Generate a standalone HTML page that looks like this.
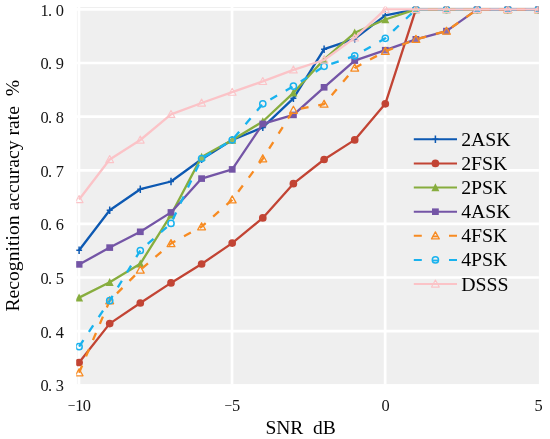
<!DOCTYPE html>
<html lang="en"><head><meta charset="utf-8"><title>Recognition accuracy rate vs SNR</title>
<style>
html,body{margin:0;padding:0;background:#fff;}
body{width:550px;height:439px;overflow:hidden;position:relative;}
svg{display:block;position:absolute;left:0;top:0;}
text{font-family:"Liberation Serif","Noto Serif CJK SC",serif;fill:#000;}
.tk{font-size:16.4px;fill:#141414;}
.mn{font-size:13.6px;}
.lb{font-size:19.7px;}
.lg{font-size:19.8px;}
</style></head><body>
<svg width="550" height="439" viewBox="0 0 550 439">
<defs><clipPath id="pc"><rect x="76.2" y="6.6" width="462.7" height="377.5"/></clipPath></defs>
<rect x="0" y="0" width="550" height="439" fill="#ffffff"/>
<rect x="76.9" y="7.0" width="462.0" height="377.1" fill="#efefef"/>
<g clip-path="url(#pc)">
<g stroke="#ffffff" stroke-width="2.7" fill="none">
<line x1="78.95" y1="6" x2="78.95" y2="385"/>
<line x1="232.05" y1="6" x2="232.05" y2="385"/>
<line x1="385.15" y1="6" x2="385.15" y2="385"/>
<line x1="76" y1="9.4" x2="540" y2="9.4"/>
<line x1="76" y1="63.0" x2="540" y2="63.0"/>
<line x1="76" y1="116.7" x2="540" y2="116.7"/>
<line x1="76" y1="170.3" x2="540" y2="170.3"/>
<line x1="76" y1="223.9" x2="540" y2="223.9"/>
<line x1="76" y1="277.5" x2="540" y2="277.5"/>
<line x1="76" y1="331.1" x2="540" y2="331.1"/>
</g>
<g>
<polyline points="79.1,250.3 109.7,210.3 140.3,189.2 171.0,181.5 201.6,159.2 232.2,140.0 262.8,127.4 293.4,98.3 324.1,49.2 354.7,38.9 385.3,15.3 415.9,9.4 446.5,9.4 477.2,9.4 507.8,9.4 538.4,9.4" fill="none" stroke="#0d59b2" stroke-width="2.3" stroke-linejoin="round"/>
<path d="M79.1 246.6V254.0M76.1 250.3H82.1" stroke="#0d59b2" stroke-width="1.5" fill="none"/>
<path d="M109.7 206.6V214.0M106.7 210.3H112.7" stroke="#0d59b2" stroke-width="1.5" fill="none"/>
<path d="M140.3 185.5V192.9M137.3 189.2H143.3" stroke="#0d59b2" stroke-width="1.5" fill="none"/>
<path d="M171.0 177.8V185.2M168.0 181.5H174.0" stroke="#0d59b2" stroke-width="1.5" fill="none"/>
<path d="M201.6 155.5V162.9M198.6 159.2H204.6" stroke="#0d59b2" stroke-width="1.5" fill="none"/>
<path d="M232.2 136.3V143.7M229.2 140.0H235.2" stroke="#0d59b2" stroke-width="1.5" fill="none"/>
<path d="M262.8 123.7V131.1M259.8 127.4H265.8" stroke="#0d59b2" stroke-width="1.5" fill="none"/>
<path d="M293.4 94.6V102.0M290.4 98.3H296.4" stroke="#0d59b2" stroke-width="1.5" fill="none"/>
<path d="M324.1 45.5V52.9M321.1 49.2H327.1" stroke="#0d59b2" stroke-width="1.5" fill="none"/>
<path d="M354.7 35.2V42.6M351.7 38.9H357.7" stroke="#0d59b2" stroke-width="1.5" fill="none"/>
<path d="M385.3 11.6V19.0M382.3 15.3H388.3" stroke="#0d59b2" stroke-width="1.5" fill="none"/>
<path d="M415.9 5.7V13.1M412.9 9.4H418.9" stroke="#0d59b2" stroke-width="1.5" fill="none"/>
<path d="M446.5 5.7V13.1M443.5 9.4H449.5" stroke="#0d59b2" stroke-width="1.5" fill="none"/>
<path d="M477.2 5.7V13.1M474.2 9.4H480.2" stroke="#0d59b2" stroke-width="1.5" fill="none"/>
<path d="M507.8 5.7V13.1M504.8 9.4H510.8" stroke="#0d59b2" stroke-width="1.5" fill="none"/>
<path d="M538.4 5.7V13.1M535.4 9.4H541.4" stroke="#0d59b2" stroke-width="1.5" fill="none"/>
</g>
<g>
<polyline points="79.1,362.5 109.7,323.6 140.3,303.0 171.0,282.9 201.6,264.0 232.2,243.1 262.8,217.9 293.4,183.7 324.1,159.5 354.7,139.9 385.3,103.8 415.9,9.4 446.5,9.4 477.2,9.4 507.8,9.4 538.4,9.4" fill="none" stroke="#c24434" stroke-width="2.3" stroke-linejoin="round"/>
<circle cx="79.1" cy="362.5" r="3.85" fill="#c24434"/>
<circle cx="109.7" cy="323.6" r="3.85" fill="#c24434"/>
<circle cx="140.3" cy="303.0" r="3.85" fill="#c24434"/>
<circle cx="171.0" cy="282.9" r="3.85" fill="#c24434"/>
<circle cx="201.6" cy="264.0" r="3.85" fill="#c24434"/>
<circle cx="232.2" cy="243.1" r="3.85" fill="#c24434"/>
<circle cx="262.8" cy="217.9" r="3.85" fill="#c24434"/>
<circle cx="293.4" cy="183.7" r="3.85" fill="#c24434"/>
<circle cx="324.1" cy="159.5" r="3.85" fill="#c24434"/>
<circle cx="354.7" cy="139.9" r="3.85" fill="#c24434"/>
<circle cx="385.3" cy="103.8" r="3.85" fill="#c24434"/>
<circle cx="415.9" cy="9.4" r="3.85" fill="#c24434"/>
<circle cx="446.5" cy="9.4" r="3.85" fill="#c24434"/>
<circle cx="477.2" cy="9.4" r="3.85" fill="#c24434"/>
<circle cx="507.8" cy="9.4" r="3.85" fill="#c24434"/>
<circle cx="538.4" cy="9.4" r="3.85" fill="#c24434"/>
</g>
<g>
<polyline points="79.1,297.6 109.7,282.3 140.3,263.8 171.0,214.8 201.6,156.9 232.2,140.0 262.8,121.5 293.4,92.8 324.1,59.4 354.7,32.8 385.3,19.5 415.9,9.4 446.5,9.4 477.2,9.4 507.8,9.4 538.4,9.4" fill="none" stroke="#87ad3e" stroke-width="2.3" stroke-linejoin="round"/>
<path d="M79.1 293.4L83.1 301.4H75.1Z" fill="#87ad3e"/>
<path d="M109.7 278.1L113.7 286.1H105.7Z" fill="#87ad3e"/>
<path d="M140.3 259.6L144.3 267.6H136.3Z" fill="#87ad3e"/>
<path d="M171.0 210.6L175.0 218.6H167.0Z" fill="#87ad3e"/>
<path d="M201.6 152.7L205.6 160.7H197.6Z" fill="#87ad3e"/>
<path d="M232.2 135.8L236.2 143.8H228.2Z" fill="#87ad3e"/>
<path d="M262.8 117.3L266.8 125.3H258.8Z" fill="#87ad3e"/>
<path d="M293.4 88.6L297.4 96.6H289.4Z" fill="#87ad3e"/>
<path d="M324.1 55.2L328.1 63.2H320.1Z" fill="#87ad3e"/>
<path d="M354.7 28.6L358.7 36.6H350.7Z" fill="#87ad3e"/>
<path d="M385.3 15.3L389.3 23.3H381.3Z" fill="#87ad3e"/>
<path d="M415.9 5.2L419.9 13.2H411.9Z" fill="#87ad3e"/>
<path d="M446.5 5.2L450.5 13.2H442.5Z" fill="#87ad3e"/>
<path d="M477.2 5.2L481.2 13.2H473.2Z" fill="#87ad3e"/>
<path d="M507.8 5.2L511.8 13.2H503.8Z" fill="#87ad3e"/>
<path d="M538.4 5.2L542.4 13.2H534.4Z" fill="#87ad3e"/>
</g>
<g>
<polyline points="79.1,264.4 109.7,247.6 140.3,231.8 171.0,212.4 201.6,178.6 232.2,169.4 262.8,123.9 293.4,114.9 324.1,87.3 354.7,60.6 385.3,50.2 415.9,39.3 446.5,31.1 477.2,9.4 507.8,9.4 538.4,9.4" fill="none" stroke="#7455a6" stroke-width="2.3" stroke-linejoin="round"/>
<rect x="75.7" y="261.1" width="6.8" height="6.6" fill="#7455a6"/>
<rect x="106.3" y="244.3" width="6.8" height="6.6" fill="#7455a6"/>
<rect x="136.9" y="228.5" width="6.8" height="6.6" fill="#7455a6"/>
<rect x="167.6" y="209.1" width="6.8" height="6.6" fill="#7455a6"/>
<rect x="198.2" y="175.3" width="6.8" height="6.6" fill="#7455a6"/>
<rect x="228.8" y="166.1" width="6.8" height="6.6" fill="#7455a6"/>
<rect x="259.4" y="120.6" width="6.8" height="6.6" fill="#7455a6"/>
<rect x="290.0" y="111.6" width="6.8" height="6.6" fill="#7455a6"/>
<rect x="320.7" y="84.0" width="6.8" height="6.6" fill="#7455a6"/>
<rect x="351.3" y="57.3" width="6.8" height="6.6" fill="#7455a6"/>
<rect x="381.9" y="46.9" width="6.8" height="6.6" fill="#7455a6"/>
<rect x="412.5" y="36.0" width="6.8" height="6.6" fill="#7455a6"/>
<rect x="443.1" y="27.8" width="6.8" height="6.6" fill="#7455a6"/>
<rect x="473.8" y="6.1" width="6.8" height="6.6" fill="#7455a6"/>
<rect x="504.4" y="6.1" width="6.8" height="6.6" fill="#7455a6"/>
<rect x="535.0" y="6.1" width="6.8" height="6.6" fill="#7455a6"/>
</g>
<g>
<path d="M79.1 368.8L83.0 375.8H75.2Z" fill="#ffffff" fill-opacity="0.15"/>
<path d="M109.7 296.8L113.6 303.8H105.8Z" fill="#ffffff" fill-opacity="0.15"/>
<path d="M140.3 266.1L144.2 273.1H136.4Z" fill="#ffffff" fill-opacity="0.15"/>
<path d="M171.0 239.6L174.9 246.6H167.1Z" fill="#ffffff" fill-opacity="0.15"/>
<path d="M201.6 222.8L205.5 229.8H197.7Z" fill="#ffffff" fill-opacity="0.15"/>
<path d="M232.2 195.9L236.1 202.9H228.3Z" fill="#ffffff" fill-opacity="0.15"/>
<path d="M262.8 154.8L266.7 161.8H258.9Z" fill="#ffffff" fill-opacity="0.15"/>
<path d="M293.4 106.3L297.3 113.3H289.5Z" fill="#ffffff" fill-opacity="0.15"/>
<path d="M324.1 100.2L328.0 107.2H320.2Z" fill="#ffffff" fill-opacity="0.15"/>
<path d="M354.7 64.1L358.6 71.1H350.8Z" fill="#ffffff" fill-opacity="0.15"/>
<path d="M385.3 47.4L389.2 54.4H381.4Z" fill="#ffffff" fill-opacity="0.15"/>
<path d="M415.9 35.4L419.8 42.4H412.0Z" fill="#ffffff" fill-opacity="0.15"/>
<path d="M446.5 27.2L450.4 34.2H442.6Z" fill="#ffffff" fill-opacity="0.15"/>
<path d="M477.2 5.5L481.1 12.5H473.3Z" fill="#ffffff" fill-opacity="0.15"/>
<path d="M507.8 5.5L511.7 12.5H503.9Z" fill="#ffffff" fill-opacity="0.15"/>
<path d="M538.4 5.5L542.3 12.5H534.5Z" fill="#ffffff" fill-opacity="0.15"/>
<polyline points="79.1,372.7 109.7,300.7 140.3,270.0 171.0,243.5 201.6,226.7 232.2,199.8 262.8,158.7 293.4,110.2 324.1,104.1 354.7,68.0 385.3,51.3 415.9,39.3 446.5,31.1 477.2,9.4 507.8,9.4 538.4,9.4" fill="none" stroke="#f78b22" stroke-width="2.3" stroke-linejoin="round" stroke-dasharray="7.8 9.9"/>
<path d="M79.1 368.8L83.0 375.8H75.2Z" fill="none" stroke="#f78b22" stroke-width="1.3" stroke-linejoin="round"/>
<path d="M109.7 296.8L113.6 303.8H105.8Z" fill="none" stroke="#f78b22" stroke-width="1.3" stroke-linejoin="round"/>
<path d="M140.3 266.1L144.2 273.1H136.4Z" fill="none" stroke="#f78b22" stroke-width="1.3" stroke-linejoin="round"/>
<path d="M171.0 239.6L174.9 246.6H167.1Z" fill="none" stroke="#f78b22" stroke-width="1.3" stroke-linejoin="round"/>
<path d="M201.6 222.8L205.5 229.8H197.7Z" fill="none" stroke="#f78b22" stroke-width="1.3" stroke-linejoin="round"/>
<path d="M232.2 195.9L236.1 202.9H228.3Z" fill="none" stroke="#f78b22" stroke-width="1.3" stroke-linejoin="round"/>
<path d="M262.8 154.8L266.7 161.8H258.9Z" fill="none" stroke="#f78b22" stroke-width="1.3" stroke-linejoin="round"/>
<path d="M293.4 106.3L297.3 113.3H289.5Z" fill="none" stroke="#f78b22" stroke-width="1.3" stroke-linejoin="round"/>
<path d="M324.1 100.2L328.0 107.2H320.2Z" fill="none" stroke="#f78b22" stroke-width="1.3" stroke-linejoin="round"/>
<path d="M354.7 64.1L358.6 71.1H350.8Z" fill="none" stroke="#f78b22" stroke-width="1.3" stroke-linejoin="round"/>
<path d="M385.3 47.4L389.2 54.4H381.4Z" fill="none" stroke="#f78b22" stroke-width="1.3" stroke-linejoin="round"/>
<path d="M415.9 35.4L419.8 42.4H412.0Z" fill="none" stroke="#f78b22" stroke-width="1.3" stroke-linejoin="round"/>
<path d="M446.5 27.2L450.4 34.2H442.6Z" fill="none" stroke="#f78b22" stroke-width="1.3" stroke-linejoin="round"/>
<path d="M477.2 5.5L481.1 12.5H473.3Z" fill="none" stroke="#f78b22" stroke-width="1.3" stroke-linejoin="round"/>
<path d="M507.8 5.5L511.7 12.5H503.9Z" fill="none" stroke="#f78b22" stroke-width="1.3" stroke-linejoin="round"/>
<path d="M538.4 5.5L542.3 12.5H534.5Z" fill="none" stroke="#f78b22" stroke-width="1.3" stroke-linejoin="round"/>
</g>
<g>
<circle cx="79.1" cy="346.7" r="3.1" fill="#ffffff" fill-opacity="0.15"/>
<circle cx="109.7" cy="300.7" r="3.1" fill="#ffffff" fill-opacity="0.15"/>
<circle cx="140.3" cy="250.5" r="3.1" fill="#ffffff" fill-opacity="0.15"/>
<circle cx="171.0" cy="223.4" r="3.1" fill="#ffffff" fill-opacity="0.15"/>
<circle cx="201.6" cy="158.5" r="3.1" fill="#ffffff" fill-opacity="0.15"/>
<circle cx="232.2" cy="140.0" r="3.1" fill="#ffffff" fill-opacity="0.15"/>
<circle cx="262.8" cy="103.8" r="3.1" fill="#ffffff" fill-opacity="0.15"/>
<circle cx="293.4" cy="86.2" r="3.1" fill="#ffffff" fill-opacity="0.15"/>
<circle cx="324.1" cy="66.3" r="3.1" fill="#ffffff" fill-opacity="0.15"/>
<circle cx="354.7" cy="55.8" r="3.1" fill="#ffffff" fill-opacity="0.15"/>
<circle cx="385.3" cy="38.3" r="3.1" fill="#ffffff" fill-opacity="0.15"/>
<circle cx="415.9" cy="9.4" r="3.1" fill="#ffffff" fill-opacity="0.15"/>
<circle cx="446.5" cy="9.4" r="3.1" fill="#ffffff" fill-opacity="0.15"/>
<circle cx="477.2" cy="9.4" r="3.1" fill="#ffffff" fill-opacity="0.15"/>
<circle cx="507.8" cy="9.4" r="3.1" fill="#ffffff" fill-opacity="0.15"/>
<circle cx="538.4" cy="9.4" r="3.1" fill="#ffffff" fill-opacity="0.15"/>
<polyline points="79.1,346.7 109.7,300.7 140.3,250.5 171.0,223.4 201.6,158.5 232.2,140.0 262.8,103.8 293.4,86.2 324.1,66.3 354.7,55.8 385.3,38.3 415.9,9.4 446.5,9.4 477.2,9.4 507.8,9.4 538.4,9.4" fill="none" stroke="#18b2ee" stroke-width="2.3" stroke-linejoin="round" stroke-dasharray="7.8 9.9"/>
<circle cx="79.1" cy="346.7" r="3.1" fill="none" stroke="#18b2ee" stroke-width="1.5"/>
<circle cx="109.7" cy="300.7" r="3.1" fill="none" stroke="#18b2ee" stroke-width="1.5"/>
<circle cx="140.3" cy="250.5" r="3.1" fill="none" stroke="#18b2ee" stroke-width="1.5"/>
<circle cx="171.0" cy="223.4" r="3.1" fill="none" stroke="#18b2ee" stroke-width="1.5"/>
<circle cx="201.6" cy="158.5" r="3.1" fill="none" stroke="#18b2ee" stroke-width="1.5"/>
<circle cx="232.2" cy="140.0" r="3.1" fill="none" stroke="#18b2ee" stroke-width="1.5"/>
<circle cx="262.8" cy="103.8" r="3.1" fill="none" stroke="#18b2ee" stroke-width="1.5"/>
<circle cx="293.4" cy="86.2" r="3.1" fill="none" stroke="#18b2ee" stroke-width="1.5"/>
<circle cx="324.1" cy="66.3" r="3.1" fill="none" stroke="#18b2ee" stroke-width="1.5"/>
<circle cx="354.7" cy="55.8" r="3.1" fill="none" stroke="#18b2ee" stroke-width="1.5"/>
<circle cx="385.3" cy="38.3" r="3.1" fill="none" stroke="#18b2ee" stroke-width="1.5"/>
<circle cx="415.9" cy="9.4" r="3.1" fill="none" stroke="#18b2ee" stroke-width="1.5"/>
<circle cx="446.5" cy="9.4" r="3.1" fill="none" stroke="#18b2ee" stroke-width="1.5"/>
<circle cx="477.2" cy="9.4" r="3.1" fill="none" stroke="#18b2ee" stroke-width="1.5"/>
<circle cx="507.8" cy="9.4" r="3.1" fill="none" stroke="#18b2ee" stroke-width="1.5"/>
<circle cx="538.4" cy="9.4" r="3.1" fill="none" stroke="#18b2ee" stroke-width="1.5"/>
</g>
<g>
<path d="M79.1 195.6L83.0 202.6H75.2Z" fill="#ffffff" fill-opacity="0.12"/>
<path d="M109.7 155.6L113.6 162.6H105.8Z" fill="#ffffff" fill-opacity="0.12"/>
<path d="M140.3 136.1L144.2 143.1H136.4Z" fill="#ffffff" fill-opacity="0.12"/>
<path d="M171.0 110.4L174.9 117.4H167.1Z" fill="#ffffff" fill-opacity="0.12"/>
<path d="M201.6 99.1L205.5 106.1H197.7Z" fill="#ffffff" fill-opacity="0.12"/>
<path d="M232.2 88.3L236.1 95.3H228.3Z" fill="#ffffff" fill-opacity="0.12"/>
<path d="M262.8 77.5L266.7 84.5H258.9Z" fill="#ffffff" fill-opacity="0.12"/>
<path d="M293.4 65.9L297.3 72.9H289.5Z" fill="#ffffff" fill-opacity="0.12"/>
<path d="M324.1 56.1L328.0 63.1H320.2Z" fill="#ffffff" fill-opacity="0.12"/>
<path d="M354.7 34.0L358.6 41.0H350.8Z" fill="#ffffff" fill-opacity="0.12"/>
<path d="M385.3 5.5L389.2 12.5H381.4Z" fill="#ffffff" fill-opacity="0.12"/>
<path d="M415.9 5.5L419.8 12.5H412.0Z" fill="#ffffff" fill-opacity="0.12"/>
<path d="M446.5 5.5L450.4 12.5H442.6Z" fill="#ffffff" fill-opacity="0.12"/>
<path d="M477.2 5.5L481.1 12.5H473.3Z" fill="#ffffff" fill-opacity="0.12"/>
<path d="M507.8 5.5L511.7 12.5H503.9Z" fill="#ffffff" fill-opacity="0.12"/>
<path d="M538.4 5.5L542.3 12.5H534.5Z" fill="#ffffff" fill-opacity="0.12"/>
<polyline points="79.1,199.5 109.7,159.5 140.3,140.0 171.0,114.3 201.6,103.0 232.2,92.2 262.8,81.4 293.4,69.8 324.1,60.0 354.7,37.9 385.3,9.4 415.9,9.4 446.5,9.4 477.2,9.4 507.8,9.4 538.4,9.4" fill="none" stroke="#fbc3c7" stroke-width="2.3" stroke-linejoin="round"/>
<path d="M79.1 195.6L83.0 202.6H75.2Z" fill="none" stroke="#fbc3c7" stroke-width="1.1" stroke-linejoin="round"/>
<path d="M109.7 155.6L113.6 162.6H105.8Z" fill="none" stroke="#fbc3c7" stroke-width="1.1" stroke-linejoin="round"/>
<path d="M140.3 136.1L144.2 143.1H136.4Z" fill="none" stroke="#fbc3c7" stroke-width="1.1" stroke-linejoin="round"/>
<path d="M171.0 110.4L174.9 117.4H167.1Z" fill="none" stroke="#fbc3c7" stroke-width="1.1" stroke-linejoin="round"/>
<path d="M201.6 99.1L205.5 106.1H197.7Z" fill="none" stroke="#fbc3c7" stroke-width="1.1" stroke-linejoin="round"/>
<path d="M232.2 88.3L236.1 95.3H228.3Z" fill="none" stroke="#fbc3c7" stroke-width="1.1" stroke-linejoin="round"/>
<path d="M262.8 77.5L266.7 84.5H258.9Z" fill="none" stroke="#fbc3c7" stroke-width="1.1" stroke-linejoin="round"/>
<path d="M293.4 65.9L297.3 72.9H289.5Z" fill="none" stroke="#fbc3c7" stroke-width="1.1" stroke-linejoin="round"/>
<path d="M324.1 56.1L328.0 63.1H320.2Z" fill="none" stroke="#fbc3c7" stroke-width="1.1" stroke-linejoin="round"/>
<path d="M354.7 34.0L358.6 41.0H350.8Z" fill="none" stroke="#fbc3c7" stroke-width="1.1" stroke-linejoin="round"/>
<path d="M385.3 5.5L389.2 12.5H381.4Z" fill="none" stroke="#fbc3c7" stroke-width="1.1" stroke-linejoin="round"/>
<path d="M415.9 5.5L419.8 12.5H412.0Z" fill="none" stroke="#fbc3c7" stroke-width="1.1" stroke-linejoin="round"/>
<path d="M446.5 5.5L450.4 12.5H442.6Z" fill="none" stroke="#fbc3c7" stroke-width="1.1" stroke-linejoin="round"/>
<path d="M477.2 5.5L481.1 12.5H473.3Z" fill="none" stroke="#fbc3c7" stroke-width="1.1" stroke-linejoin="round"/>
<path d="M507.8 5.5L511.7 12.5H503.9Z" fill="none" stroke="#fbc3c7" stroke-width="1.1" stroke-linejoin="round"/>
<path d="M538.4 5.5L542.3 12.5H534.5Z" fill="none" stroke="#fbc3c7" stroke-width="1.1" stroke-linejoin="round"/>
</g>
</g>
<path d="M413.8 139.3H457.0" stroke="#0d59b2" stroke-width="1.95" fill="none"/>
<path d="M435.4 135.6V143.0M432.4 139.3H438.4" stroke="#0d59b2" stroke-width="1.5" fill="none"/>
<text class="lg" x="461.2" y="145.8">2ASK</text>
<path d="M413.8 163.4H457.0" stroke="#c24434" stroke-width="1.95" fill="none"/>
<circle cx="435.4" cy="163.4" r="3.85" fill="#c24434"/>
<text class="lg" x="461.2" y="169.9">2FSK</text>
<path d="M413.8 187.5H457.0" stroke="#87ad3e" stroke-width="1.95" fill="none"/>
<path d="M435.4 183.3L439.4 191.3H431.4Z" fill="#87ad3e"/>
<text class="lg" x="461.2" y="194.0">2PSK</text>
<path d="M413.8 211.7H457.0" stroke="#7455a6" stroke-width="1.95" fill="none"/>
<rect x="432.0" y="208.4" width="6.8" height="6.6" fill="#7455a6"/>
<text class="lg" x="461.2" y="218.2">4ASK</text>
<path d="M435.4 231.9L439.3 238.9H431.5Z" fill="#ffffff" fill-opacity="0.15"/>
<path d="M413.8 235.8H421.8M449.0 235.8H457.0" stroke="#f78b22" stroke-width="1.95" fill="none"/>
<path d="M432.8 236.4h5.2" stroke="#f78b22" stroke-width="1.8" fill="none"/>
<path d="M435.4 231.9L439.3 238.9H431.5Z" fill="none" stroke="#f78b22" stroke-width="1.3" stroke-linejoin="round"/>
<text class="lg" x="461.2" y="242.3">4FSK</text>
<circle cx="435.4" cy="259.9" r="3.1" fill="#ffffff" fill-opacity="0.15"/>
<path d="M413.8 259.9H421.8M449.0 259.9H457.0" stroke="#18b2ee" stroke-width="1.95" fill="none"/>
<path d="M432.8 260.5h5.2" stroke="#18b2ee" stroke-width="1.8" fill="none"/>
<circle cx="435.4" cy="259.9" r="3.1" fill="none" stroke="#18b2ee" stroke-width="1.5"/>
<text class="lg" x="461.2" y="266.4">4PSK</text>
<path d="M435.4 280.1L439.3 287.1H431.5Z" fill="#ffffff" fill-opacity="0.12"/>
<path d="M413.8 284.0H457.0" stroke="#fbc3c7" stroke-width="1.95" fill="none"/>
<path d="M435.4 280.1L439.3 287.1H431.5Z" fill="none" stroke="#fbc3c7" stroke-width="1.1" stroke-linejoin="round"/>
<text class="lg" x="461.2" y="290.5">DSSS</text>
<text class="tk" x="40.4 48.05 55.7" y="15.8">1.0</text>
<text class="tk" x="40.4 48.05 55.7" y="69.4">0.9</text>
<text class="tk" x="40.4 48.05 55.7" y="123.1">0.8</text>
<text class="tk" x="40.4 48.05 55.7" y="176.7">0.7</text>
<text class="tk" x="40.4 48.05 55.7" y="230.3">0.6</text>
<text class="tk" x="40.4 48.05 55.7" y="283.9">0.5</text>
<text class="tk" x="40.4 48.05 55.7" y="337.5">0.4</text>
<text class="tk" x="40.4 48.05 55.7" y="391.1">0.3</text>
<text class="tk" y="410.7"><tspan class="mn" x="67.63" dy="-0.9">−</tspan><tspan x="75.18 82.83" dy="0.9">10</tspan></text>
<text class="tk" y="410.7"><tspan class="mn" x="224.55" dy="-0.9">−</tspan><tspan x="232.10" dy="0.9">5</tspan></text>
<text class="tk" x="381.38" y="410.7">0</text>
<text class="tk" x="534.47" y="410.7">5</text>
<text class="lb" style="font-size:19.5px" x="265.4" y="434.2" xml:space="preserve">SNR&#160;&#160;dB</text>
<text class="lb" transform="translate(19.2 311.6) rotate(-90)" xml:space="preserve">Recognition accuracy rate&#160;&#160;%</text>
</svg></body></html>
